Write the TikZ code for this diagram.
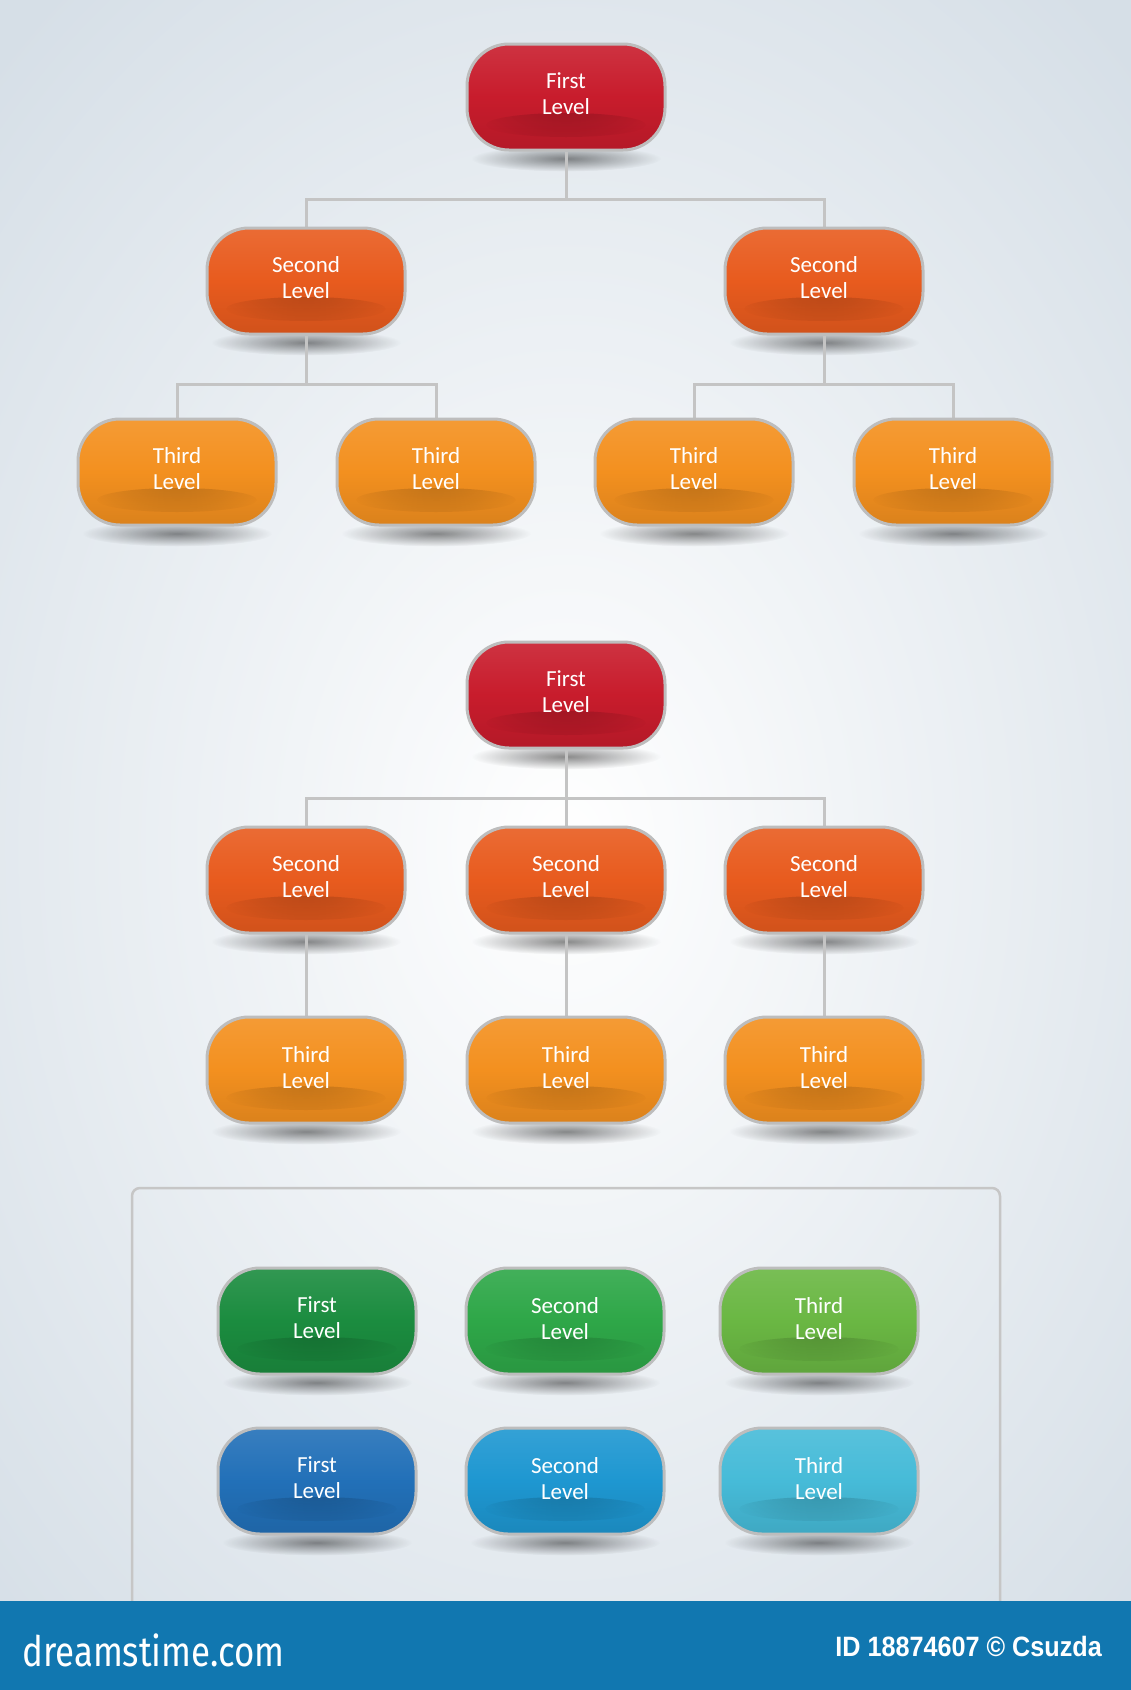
\documentclass[tikz,border=0pt]{standalone}
\usepackage{fontspec}
\setmainfont{Carlito}
\newfontfamily\bannerfont{Fira Sans}
\newfontfamily\idfont{Liberation Sans}
\usetikzlibrary{fadings}
\tikzfading[name=softfade, inner color=transparent!0, outer color=transparent!100]
\pgfdeclarelayer{bglayer}
\pgfdeclarelayer{connlayer}
\pgfsetlayers{bglayer,connlayer,main}
\definecolor{redc}{HTML}{C81C2C}
\definecolor{orangeA}{HTML}{E85B1E}
\definecolor{orangeB}{HTML}{F3901F}
\definecolor{greenA}{HTML}{1B8C3F}
\definecolor{greenB}{HTML}{2EA748}
\definecolor{greenC}{HTML}{6AB743}
\definecolor{blueA}{HTML}{2270B8}
\definecolor{blueB}{HTML}{1E97D1}
\definecolor{blueC}{HTML}{46BBD8}
\definecolor{rimc}{HTML}{BDBDBD}
\definecolor{connc}{HTML}{C4C4C4}
\definecolor{framec}{HTML}{C6C6C6}
\definecolor{bannerc}{HTML}{1177B0}
\definecolor{bgouter}{HTML}{D6DFE7}
\newcommand\lvlbox[5]{%
  \node[lvl=#4] (#1) at (#2,#3) {#5\rule[-6pt]{0pt}{6pt}};
  \begin{pgfonlayer}{connlayer}
    \fill[black,opacity=.45,path fading=softfade]
      ([yshift=-7pt]#1.south) ellipse[x radius=95pt,y radius=13pt];
  \end{pgfonlayer}}
\begin{document}
\begin{tikzpicture}[x=1pt,y=-1pt,
  lvl/.style={draw=rimc, line width=3pt, rounded corners=42pt,
    minimum width=198pt, minimum height=106pt, inner sep=0pt,
    text=white, align=center, font=\fontsize{23}{26}\selectfont,
    top color=#1!90!white, bottom color=#1!90!black, middle color=#1,
    path picture={\fill[black,opacity=0.22,path fading=softfade]
      ([yshift=-28pt]path picture bounding box.center) ellipse[x radius=80pt, y radius=12pt];}},
  conn/.style={draw=connc, line width=3pt}]
\useasboundingbox (0,0) rectangle (1131,1690);
\begin{pgfonlayer}{bglayer}
  \begin{scope}
    \clip (0,0) rectangle (1131,1690);
    \shade[inner color=white, outer color=bgouter] (-250,-250) rectangle (1381,1940);
  \end{scope}
\end{pgfonlayer}

% Section 1
\lvlbox{a1}{566}{97}{redc}{First\\Level}
\lvlbox{a2}{306}{281}{orangeA}{Second\\Level}
\lvlbox{a3}{824}{281}{orangeA}{Second\\Level}
\lvlbox{a4}{177}{472}{orangeB}{Third\\Level}
\lvlbox{a5}{436}{472}{orangeB}{Third\\Level}
\lvlbox{a6}{694}{472}{orangeB}{Third\\Level}
\lvlbox{a7}{953}{472}{orangeB}{Third\\Level}

% Section 2
\lvlbox{b1}{566}{695}{redc}{First\\Level}
\lvlbox{b2}{306}{880}{orangeA}{Second\\Level}
\lvlbox{b3}{566}{880}{orangeA}{Second\\Level}
\lvlbox{b4}{824}{880}{orangeA}{Second\\Level}
\lvlbox{b5}{306}{1070}{orangeB}{Third\\Level}
\lvlbox{b6}{566}{1070}{orangeB}{Third\\Level}
\lvlbox{b7}{824}{1070}{orangeB}{Third\\Level}

% Section 3
\lvlbox{c1}{317}{1321}{greenA}{First\\Level}
\lvlbox{c2}{565}{1321}{greenB}{Second\\Level}
\lvlbox{c3}{819}{1321}{greenC}{Third\\Level}
\lvlbox{c4}{317}{1481}{blueA}{First\\Level}
\lvlbox{c5}{565}{1481}{blueB}{Second\\Level}
\lvlbox{c6}{819}{1481}{blueC}{Third\\Level}

\begin{pgfonlayer}{connlayer}
  \draw[conn] (a1.south) -- ++(0,48) -| (a2.north);
  \draw[conn] (a1.south) -- ++(0,48) -| (a3.north);
  \draw[conn] (a2.south) -- ++(0,49) -| (a4.north);
  \draw[conn] (a2.south) -- ++(0,49) -| (a5.north);
  \draw[conn] (a3.south) -- ++(0,49) -| (a6.north);
  \draw[conn] (a3.south) -- ++(0,49) -| (a7.north);
  \draw[conn] (b1.south) -- ++(0,49) -| (b2.north);
  \draw[conn] (b1.south) -- (b3.north);
  \draw[conn] (b1.south) -- ++(0,49) -| (b4.north);
  \draw[conn] (b2.south) -- (b5.north);
  \draw[conn] (b3.south) -- (b6.north);
  \draw[conn] (b4.south) -- (b7.north);
  \draw[draw=framec, line width=2.5pt, rounded corners=8pt]
    (132,1620) -- (132,1188) -- (1000,1188) -- (1000,1620);
\end{pgfonlayer}

% Banner
\fill[bannerc] (0,1601) rectangle (1131,1690);
\node[anchor=base west, text=white, inner sep=0pt, xscale=.83,
  font=\bannerfont\fontsize{42}{42}\selectfont] (logo) at (22,1666) {dreamstime.com};
\node[anchor=base east, text=white, inner sep=0pt, xscale=.9,
  font=\idfont\bfseries\fontsize{28}{28}\selectfont] (credit) at (1102,1656) {ID 18874607 © Csuzda};
\end{tikzpicture}
\end{document}
